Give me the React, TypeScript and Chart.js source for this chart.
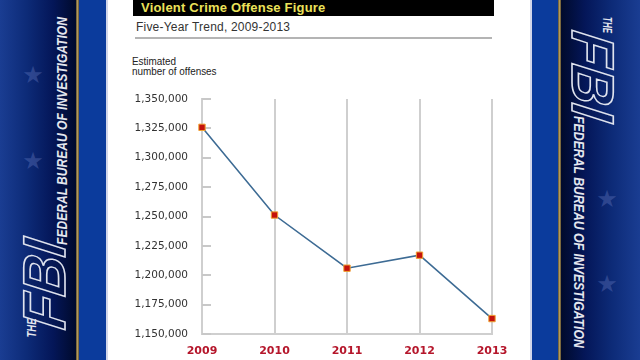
import React, { useEffect, useRef } from "react";
import { Chart, registerables } from "chart.js";

Chart.register(...registerables);

const years = ["2009", "2010", "2011", "2012", "2013"];
const offenses = [1325896, 1251248, 1206005, 1217067, 1163146];
const yMin = 1150000;
const yMax = 1350000;
const yStep = 25000;

const titleText = "Violent Crime Offense Figure";
const subtitleText = "Five-Year Trend, 2009-2013";
const yTitleLines = ["Estimated", "number of offenses"];
const sideText = "FEDERAL BUREAU OF INVESTIGATION";

function measure(text: string, font: string): number {
  const c = document.createElement("canvas").getContext("2d")!;
  c.font = font;
  return c.measureText(text).width;
}

function RotText(props: {
  text: string;
  cx: number;
  cy: number;
  len: number;
  size: number;
  rot: number;
  skew?: number;
  style?: React.CSSProperties;
}) {
  const { text, cx, cy, len, size, rot, skew = 0, style } = props;
  const font = `italic bold ${size}px "Liberation Sans", Arial, sans-serif`;
  const w = measure(text, font);
  const sx = len / w;
  return (
    <div
      style={{
        position: "absolute",
        left: cx,
        top: cy,
        whiteSpace: "nowrap",
        font,
        lineHeight: `${size}px`,
        transform: `translate(-50%,-50%) rotate(${rot}deg) skewX(${skew}deg) scaleX(${sx})`,
        ...style,
      }}
    >
      {text}
    </div>
  );
}

const innerTicks = {
  id: "innerTicks",
  beforeDatasetsDraw(chart: any) {
    const { ctx, chartArea, scales } = chart;
    const y = scales.y;
    ctx.save();
    ctx.strokeStyle = "#c8c8c8";
    ctx.lineWidth = 2;
    y.ticks.forEach((t: any) => {
      const py = Math.round(y.getPixelForValue(t.value));
      ctx.beginPath();
      ctx.moveTo(chartArea.left, py);
      ctx.lineTo(chartArea.left + 9, py);
      ctx.stroke();
    });
    ctx.restore();
  },
};

function LineChart() {
  const ref = useRef<HTMLCanvasElement>(null);
  useEffect(() => {
    const chart = new Chart(ref.current!, {
      type: "line",
      data: {
        labels: years,
        datasets: [
          {
            data: offenses,
            borderColor: "#3d6b94",
            borderWidth: 1.6,
            tension: 0,
            pointStyle: "rect",
            pointRadius: 4.5,
            pointBackgroundColor: "#c4120c",
            pointBorderColor: "#f0a232",
            pointBorderWidth: 1,
            clip: false,
          } as any,
        ],
      },
      options: {
        animation: false,
        responsive: false,
        layout: { padding: { top: 99, right: 40, left: 0, bottom: 0 } },
        plugins: { legend: { display: false }, tooltip: { enabled: false }, title: { display: false } },
        scales: {
          x: {
            type: "category",
            offset: false,
            grid: { display: true, color: "#cfcfcf", lineWidth: 2, drawTicks: false },
            border: { display: true, color: "#cfcfcf", width: 2 },
            ticks: {
              color: "#b5162b",
              font: { family: '"DejaVu Sans", sans-serif', size: 11, weight: "bold" },
              padding: 11,
              maxRotation: 0,
            },
            afterFit: (s: any) => {
              s.height = 26;
            },
          },
          y: {
            min: yMin,
            max: yMax,
            grid: { display: false, drawTicks: false },
            border: { display: true, color: "#cfcfcf", width: 2 },
            ticks: {
              stepSize: yStep,
              color: "#333333",
              font: { family: '"DejaVu Sans", sans-serif', size: 10.5 },
              padding: 14,
              callback: (v: any) => Number(v).toLocaleString("en-US"),
            },
            afterFit: (s: any) => {
              s.width = 94;
            },
          },
        },
      },
      plugins: [innerTicks],
    });
    return () => chart.destroy();
  }, []);
  return (
    <canvas
      ref={ref}
      width={424}
      height={360}
      style={{ position: "absolute", left: 108, top: 0, width: 424, height: 360 }}
    />
  );
}

const star: React.CSSProperties = {
  position: "absolute",
  fontFamily: '"DejaVu Sans", sans-serif',
  fontSize: 24,
  lineHeight: "24px",
  color: "rgba(110,130,200,0.35)",
  transform: "translate(-50%,-50%)",
};

const fbiStyle: React.CSSProperties = {
  color: "rgba(10,25,80,0.35)",
  WebkitTextStroke: "1.6px #dfe3ee",
};

export default function App() {
  return (
    <div
      style={{
        position: "fixed",
        left: 0,
        top: 0,
        width: 640,
        height: 360,
        overflow: "hidden",
        background: "#ffffff",
        fontFamily: '"Liberation Sans", Arial, sans-serif',
      }}
    >
      {/* left side panel */}
      <div
        style={{
          position: "absolute",
          left: 0,
          top: 0,
          width: 76,
          height: 360,
          background: "linear-gradient(to right, #1a3d92 0%, #0d2b78 35%, #041658 70%, #000a2c 100%)",
        }}
      />
      <div style={{ position: "absolute", left: 76, top: 0, width: 3, height: 360, background: "linear-gradient(to right, #5e5030, #b39a5c, #5e5030)" }} />
      <div style={{ position: "absolute", left: 79, top: 0, width: 27, height: 360, background: "#0b3b9c" }} />
      <div style={{ position: "absolute", left: 106, top: 0, width: 2, height: 360, background: "#d3d7ea" }} />

      {/* right side panel */}
      <div style={{ position: "absolute", left: 530, top: 0, width: 2, height: 360, background: "#d3d7ea" }} />
      <div style={{ position: "absolute", left: 532, top: 0, width: 26, height: 360, background: "#0b3b9c" }} />
      <div style={{ position: "absolute", left: 558, top: 0, width: 3, height: 360, background: "linear-gradient(to right, #5e5030, #b39a5c, #5e5030)" }} />
      <div
        style={{
          position: "absolute",
          left: 561,
          top: 0,
          width: 79,
          height: 360,
          background: "linear-gradient(to left, #1a3d92 0%, #0d2b78 35%, #041658 70%, #000a2c 100%)",
        }}
      />

      {/* stars */}
      <div style={{ ...star, left: 33, top: 75 }}>★</div>
      <div style={{ ...star, left: 33, top: 161 }}>★</div>
      <div style={{ ...star, left: 607, top: 199 }}>★</div>
      <div style={{ ...star, left: 607, top: 284 }}>★</div>

      {/* left logo text */}
      <RotText text={sideText} cx={61} cy={131} len={228} size={15} rot={-90} style={{ color: "#e4e6ee" }} />
      <RotText text="FBI" cx={45} cy={284} len={88} size={60} rot={-90} skew={-8} style={fbiStyle} />
      <RotText text="THE" cx={31} cy={328} len={19} size={13} rot={-90} style={{ color: "#e4e6ee" }} />

      {/* right logo text */}
      <RotText text={sideText} cx={579} cy={232} len={232} size={15} rot={90} style={{ color: "#e4e6ee" }} />
      <RotText text="FBI" cx={592} cy={76} len={88} size={60} rot={90} skew={-8} style={fbiStyle} />
      <RotText text="THE" cx={607} cy={25} len={16} size={13} rot={90} style={{ color: "#e4e6ee" }} />

      {/* header */}
      <div
        style={{
          position: "absolute",
          left: 133,
          top: 0,
          width: 361,
          height: 16,
          background: "#000000",
        }}
      />
      <div
        style={{
          position: "absolute",
          left: 141,
          top: 1,
          fontWeight: "bold",
          fontSize: 13,
          lineHeight: "13px",
          letterSpacing: "0.2px",
          color: "#ebe25a",
          whiteSpace: "nowrap",
        }}
      >
        {titleText}
      </div>
      <div
        style={{
          position: "absolute",
          left: 136,
          top: 21,
          fontSize: 12,
          lineHeight: "12px",
          letterSpacing: "0.2px",
          color: "#333333",
          whiteSpace: "nowrap",
        }}
      >
        {subtitleText}
      </div>
      <div style={{ position: "absolute", left: 135, top: 37, width: 357, height: 2, background: "#b4b4b4" }} />

      {/* y-axis title */}
      {yTitleLines.map((t, i) => (
        <div
          key={t}
          style={{
            position: "absolute",
            left: 132,
            top: 55.7 + i * 10.5,
            fontSize: 11,
            lineHeight: "11px",
            color: "#222222",
            whiteSpace: "nowrap",
            transform: "scaleX(0.9)",
            transformOrigin: "left center",
          }}
        >
          {t}
        </div>
      ))}

      <LineChart />
    </div>
  );
}
